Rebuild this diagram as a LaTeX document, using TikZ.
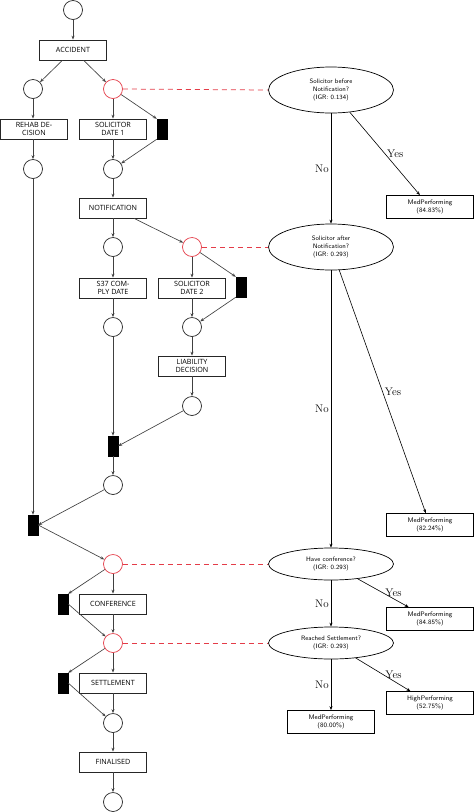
\documentclass[tikz,border=0pt]{standalone}
\usepackage{fontspec}
\newfontfamily\petri{Open Sans}
\usetikzlibrary{arrows.meta,shapes.geometric}
\definecolor{redc}{RGB}{228,60,72}
\begin{document}
\begin{tikzpicture}[x=1pt,y=-1pt,
 place/.style={circle,draw=black!85,minimum size=19pt,inner sep=0pt,line width=0.7pt},
 redplace/.style={place,draw=redc},
 trans/.style={draw=black!85,minimum width=67pt,minimum height=20pt,inner sep=1pt,align=center,font=\petri\fontsize{7.2}{8.4}\selectfont,line width=0.7pt},
 bar/.style={fill=black,draw=black,minimum width=10pt,minimum height=20pt,inner sep=0pt},
 arc/.style={-{Stealth[length=4pt,width=3pt]},line width=0.65pt,draw=black!75},
 dec/.style={ellipse,draw,minimum width=125pt,inner sep=0pt,align=center,font=\sffamily\fontsize{6.4}{7.6}\selectfont,line width=0.7pt},
 leaf/.style={draw,minimum width=87pt,minimum height=23pt,inner sep=1pt,align=center,font=\sffamily\fontsize{6.6}{7.8}\selectfont,line width=0.7pt},
 tarc/.style={-{Stealth[length=4pt,width=3pt]},line width=0.6pt},
 lab/.style={font=\fontsize{11}{12}\selectfont,inner sep=2pt},
 link/.style={draw=redc,line width=0.75pt,dash pattern=on 5pt off 4pt}
]
\useasboundingbox (0,0) rectangle (474,812);
% Petri net
\node[place] (p0) at (73,10) {};
\node[trans] (acc) at (73,50) {ACCIDENT};
\node[place] (p1) at (33,89) {};
\node[redplace] (r1) at (113,89) {};
\node[trans] (rehab) at (34,129) {REHAB DE-\\CISION};
\node[trans] (sd1) at (113,129) {SOLICITOR\\DATE 1};
\node[bar] (b1) at (162,129) {};
\node[place] (p2) at (33,169) {};
\node[place] (p3) at (113,169) {};
\node[trans] (notif) at (113,208) {NOTIFICATION};
\node[place] (p4) at (113,247) {};
\node[redplace] (r2) at (192,247) {};
\node[trans] (s37) at (113,288) {S37 COM-\\PLY DATE};
\node[trans] (sd2) at (192,288) {SOLICITOR\\DATE 2};
\node[bar] (b2) at (241,287) {};
\node[place] (p5) at (113,327) {};
\node[place] (p6) at (192,327) {};
\node[trans] (liab) at (192,366) {LIABILITY\\DECISION};
\node[place] (p7) at (192,406) {};
\node[bar] (b3) at (113,446) {};
\node[place] (p8) at (113,485) {};
\node[bar] (b4) at (33,525) {};
\node[redplace] (r3) at (113,564) {};
\node[trans] (conf) at (113,604) {CONFERENCE};
\node[bar] (b5) at (63,604) {};
\node[redplace] (r4) at (113,643) {};
\node[trans] (settle) at (113,683) {SETTLEMENT};
\node[bar] (b6) at (63,683) {};
\node[place] (p9) at (113,723) {};
\node[trans] (fin) at (113,762) {FINALISED};
\node[place] (p10) at (113,802) {};

\draw[arc] (p0) -- (acc);
\draw[arc] (acc) -- (p1);
\draw[arc] (acc) -- (r1);
\draw[arc] (p1) -- (p1|-rehab.north);
\draw[arc] (rehab.south-|p2) -- (p2);
\draw[arc] (p2) -- (b4);
\draw[arc] (r1) -- (sd1);
\draw[arc] (r1) -- (b1.north west);
\draw[arc] (sd1) -- (p3);
\draw[arc] (b1.south west) -- (p3);
\draw[arc] (p3) -- (notif);
\draw[arc] (notif) -- (p4);
\draw[arc] (notif) -- (r2);
\draw[arc] (p4) -- (s37);
\draw[arc] (s37) -- (p5);
\draw[arc] (p5) -- (b3);
\draw[arc] (r2) -- (sd2);
\draw[arc] (r2) -- (b2.north west);
\draw[arc] (sd2) -- (p6);
\draw[arc] (b2.south west) -- (p6);
\draw[arc] (p6) -- (liab);
\draw[arc] (liab) -- (p7);
\draw[arc] (p7) -- (b3.east);
\draw[arc] (b3) -- (p8);
\draw[arc] (p8) -- (b4.east);
\draw[arc] (b4.east) -- (r3);
\draw[arc] (r3) -- (conf);
\draw[arc] (r3) -- (b5.north east);
\draw[arc] (conf) -- (r4);
\draw[arc] (b5.east) -- (r4);
\draw[arc] (r4) -- (settle);
\draw[arc] (r4) -- (b6.north east);
\draw[arc] (settle) -- (p9);
\draw[arc] (b6.east) -- (p9);
\draw[arc] (p9) -- (fin);
\draw[arc] (fin) -- (p10);

% Decision tree
\node[dec,minimum height=46pt] (e1) at (331,90) {Solicitor before\\Notification?\\(IGR: 0.134)};
\node[leaf] (l1) at (430,207) {MedPerforming\\(84.83\%)};
\node[dec,minimum height=46pt] (e2) at (331,247) {Solicitor after\\Notification?\\(IGR: 0.293)};
\node[leaf] (l2) at (430,525) {MedPerforming\\(82.24\%)};
\node[dec,minimum height=32pt] (e3) at (331,564) {Have conference?\\(IGR: 0.293)};
\node[leaf] (l3) at (430,619) {MedPerforming\\(84.85\%)};
\node[dec,minimum height=32pt] (e4) at (331,643) {Reached Settlement?\\(IGR: 0.293)};
\node[leaf] (l4) at (430,703) {HighPerforming\\(52.75\%)};
\node[leaf] (l5) at (331,722) {MedPerforming\\(80.00\%)};

\draw[tarc] (e1) -- node[lab,left] {No} (e2);
\draw[tarc] (e1) -- node[lab,right] {Yes} (l1);
\draw[tarc] (e2) -- node[lab,left] {No} (e3);
\draw[tarc] (e2) -- node[lab,right] {Yes} (l2);
\draw[tarc] (e3) -- node[lab,left] {No} (e4);
\draw[tarc] (e3) -- node[lab,right] {Yes} (l3);
\draw[tarc] (e4) -- node[lab,left] {No} (l5);
\draw[tarc] (e4) -- node[lab,right] {Yes} (l4);

% links
\draw[link] (r1.east) -- (e1.west);
\draw[link] (r2.east) -- (e2.west);
\draw[link] (r3.east) -- (e3.west);
\draw[link] (r4.east) -- (e4.west);
\end{tikzpicture}
\end{document}
